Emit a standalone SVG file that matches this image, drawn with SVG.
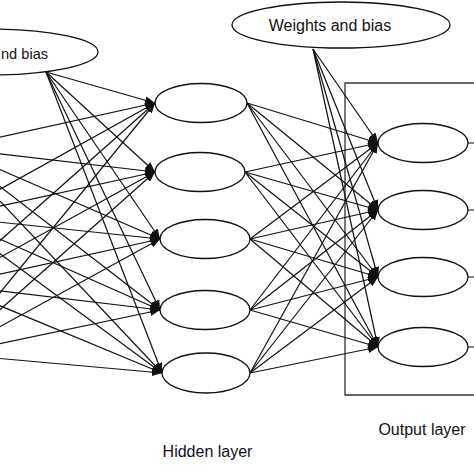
<svg xmlns="http://www.w3.org/2000/svg" width="474" height="474" viewBox="0 0 474 474">
<style>
.node{fill:#fff;stroke:#111;stroke-width:1.3}
.c{stroke:#111;stroke-width:1.2;fill:none;marker-end:url(#ah)}
.c0{stroke:#111;stroke-width:1.2;fill:none}
.t{font-family:"Liberation Sans",Arial,sans-serif;font-size:16px;fill:#111}
</style>
<defs>
<marker id="ah" markerUnits="userSpaceOnUse" markerWidth="10" markerHeight="8" refX="10" refY="4" orient="auto">
<path d="M0,0 L10,4 L0,8 z" fill="#111"/>
</marker>
</defs>
<rect width="474" height="474" fill="#fff"/>
<g id="output-box"><path d="M480,83 H345 V395 H480" fill="none" stroke="#333" stroke-width="1.3"/></g>
<g id="connectors">
<!-- inputs to hidden -->
<path class="c" d="M-50,148 L155,103"/><path class="c" d="M-50,148 L155,172"/><path class="c" d="M-50,148 L160,239"/><path class="c" d="M-50,148 L160,310"/><path class="c" d="M-50,148 L162,373"/>
<path class="c" d="M-50,217 L155,103"/><path class="c" d="M-50,217 L155,172"/><path class="c" d="M-50,217 L160,239"/><path class="c" d="M-50,217 L160,310"/><path class="c" d="M-50,217 L162,373"/>
<path class="c" d="M-50,285 L155,103"/><path class="c" d="M-50,285 L155,172"/><path class="c" d="M-50,285 L160,239"/><path class="c" d="M-50,285 L160,310"/><path class="c" d="M-50,285 L162,373"/>
<path class="c" d="M-50,354 L155,103"/><path class="c" d="M-50,354 L155,172"/><path class="c" d="M-50,354 L160,239"/><path class="c" d="M-50,354 L160,310"/><path class="c" d="M-50,354 L162,373"/>
<!-- bias to hidden -->
<path class="c" d="M46,72 L155,103"/><path class="c" d="M46,72 L155,172"/><path class="c" d="M46,72 L160,239"/><path class="c" d="M46,72 L160,310"/><path class="c" d="M46,72 L162,373"/>
<!-- hidden to output -->
<path class="c" d="M247,103 L378,143"/><path class="c" d="M247,103 L378,210"/><path class="c" d="M247,103 L378,277"/><path class="c" d="M247,103 L378,347"/>
<path class="c" d="M245,172 L378,143"/><path class="c" d="M245,172 L378,210"/><path class="c" d="M245,172 L378,277"/><path class="c" d="M245,172 L378,347"/>
<path class="c" d="M250,239 L378,143"/><path class="c" d="M250,239 L378,210"/><path class="c" d="M250,239 L378,277"/><path class="c" d="M250,239 L378,347"/>
<path class="c" d="M250,310 L378,143"/><path class="c" d="M250,310 L378,210"/><path class="c" d="M250,310 L378,277"/><path class="c" d="M250,310 L378,347"/>
<path class="c" d="M250,373 L378,143"/><path class="c" d="M250,373 L378,210"/><path class="c" d="M250,373 L378,277"/><path class="c" d="M250,373 L378,347"/>
<!-- weights to output -->
<path class="c" d="M313,49 L378,143"/><path class="c" d="M313,49 L378,210"/><path class="c" d="M313,49 L378,277"/><path class="c" d="M313,49 L378,347"/>
<!-- output stubs -->
<path class="c0" d="M468,143 H476 M468,210 H476 M468,277 H476 M468,347 H476" stroke="#666"/>
</g>
<g id="bias-left"><ellipse class="node" cx="-11" cy="52" rx="109" ry="23"/><text class="t" x="1" y="59" style="font-size:14.6px">nd bias</text></g>
<g id="bias-right"><ellipse class="node" cx="341" cy="25" rx="109" ry="23"/><text class="t" x="330" y="31" text-anchor="middle">Weights and bias</text></g>
<g id="h1"><ellipse class="node" cx="201" cy="103" rx="46" ry="19.5"/></g>
<g id="h2"><ellipse class="node" cx="200" cy="172" rx="45" ry="19.5"/></g>
<g id="h3"><ellipse class="node" cx="205" cy="239" rx="45" ry="19.5"/></g>
<g id="h4"><ellipse class="node" cx="205" cy="310" rx="45" ry="19.5"/></g>
<g id="h5"><ellipse class="node" cx="206" cy="373" rx="44" ry="20"/></g>
<g id="o1"><ellipse class="node" cx="423" cy="143" rx="45" ry="19.5"/></g>
<g id="o2"><ellipse class="node" cx="423" cy="210" rx="45" ry="19.5"/></g>
<g id="o3"><ellipse class="node" cx="423" cy="277" rx="45" ry="19.5"/></g>
<g id="o4"><ellipse class="node" cx="423" cy="347" rx="45" ry="19.5"/></g>
<g id="labels">
<text class="t" x="207.5" y="457" text-anchor="middle">Hidden layer</text>
<text class="t" x="422" y="435" text-anchor="middle">Output layer</text>
</g>
</svg>
